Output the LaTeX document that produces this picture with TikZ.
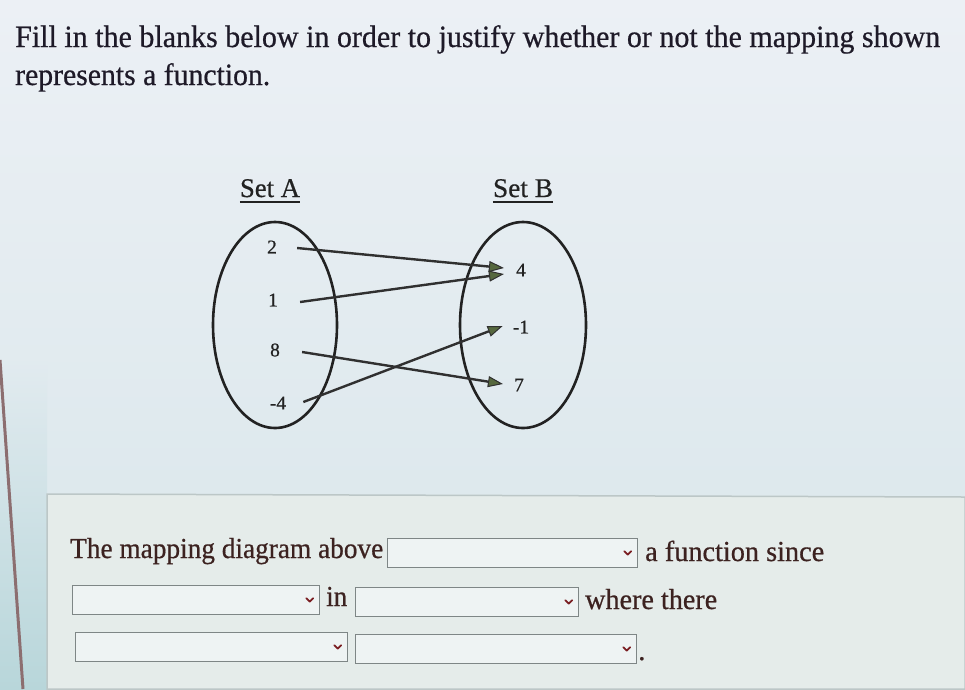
\documentclass[tikz,border=0pt]{standalone}
\usepackage{fontspec}
\setmainfont{Liberation Serif}
\newfontfamily\heavyserif{Liberation Serif}[FakeBold=0.6]
\usetikzlibrary{arrows.meta,shapes.geometric}
\newcommand\fitw[2]{\resizebox{#1}{\height}{#2}}
\definecolor{ttlc}{HTML}{1E1A28}
\definecolor{btxc}{HTML}{3C2220}
\definecolor{ellc}{HTML}{222222}
\definecolor{arrc}{HTML}{303030}
\definecolor{headc}{HTML}{56683E}
\definecolor{boxc}{HTML}{7E8686}
\definecolor{boxfill}{HTML}{EEF3F3}
\definecolor{chevc}{HTML}{7A1E22}
\definecolor{panelc}{HTML}{E5ECEA}
\definecolor{paneld}{HTML}{BCC7C7}
\definecolor{bgtop}{HTML}{ECF0F5}
\definecolor{bgbot}{HTML}{D8E6EA}
\definecolor{tealc}{HTML}{B8D6DA}
\definecolor{bezelc}{HTML}{8C6E70}
\colorlet{bgmid}{bgbot!52!bgtop}
\begin{document}
\begin{tikzpicture}[x=1pt,y=-1pt,
  txt/.style={inner sep=0pt, anchor=base west},
  ttl/.style={txt, text=ttlc, font=\heavyserif\fontsize{31}{31}\selectfont},
  btx/.style={txt, text=btxc, font=\heavyserif\fontsize{29}{29}\selectfont},
  setlbl/.style={inner sep=0pt, anchor=base, text=ellc, font=\heavyserif\fontsize{27}{27}\selectfont},
  dig/.style={inner sep=0pt, text=ellc, font=\heavyserif\fontsize{19.5}{19.5}\selectfont},
  setell/.style={draw=ellc, line width=2.6pt, ellipse, inner sep=0pt},
  maparrow/.style={line width=2.4pt, draw=arrc, -{Triangle[length=15pt,width=11pt,fill=headc,line width=1pt]}},
  dropbox/.style={draw=boxc, line width=1.3pt, fill=boxfill, inner sep=0pt, anchor=north west},
  chev/.style={draw=chevc, line width=1.8pt, line cap=round, line join=round}
]
\path[use as bounding box] (0,0) rectangle (965,689);
% background
\shade[top color=bgtop, bottom color=bgbot] (0,0) rectangle (965,689);
\shade[top color=bgmid, bottom color=tealc] (0,360) rectangle (47,689);
\draw[bezelc, line width=3pt] (0,360) -- (23,689);
% panel
\filldraw[fill=panelc, draw=paneld, line width=1.5pt] (47,689) -- (47,494) -- (965,497) -- (965,689) -- cycle;

% title
\node[ttl] (t1) at (15,47) {\fitw{925pt}{Fill in the blanks below in order to justify whether or not the mapping shown}};
\node[ttl] (t2) at (15,85) {\fitw{255pt}{represents a function.}};

% set labels
\node[setlbl] (setA) at (270,197) {\fitw{60pt}{Set A}};
\node[setlbl] (setB) at (523,197) {\fitw{60pt}{Set B}};
\draw[ellc, line width=1.8pt] ([yshift=-5pt]setA.base west) -- ([yshift=-5pt]setA.base east);
\draw[ellc, line width=1.8pt] ([yshift=-5pt]setB.base west) -- ([yshift=-5pt]setB.base east);

% ellipses
\node[setell, minimum width=124pt, minimum height=206pt] (ellA) at (275,325) {};
\node[setell, minimum width=126pt, minimum height=206pt] (ellB) at (523,325) {};

% elements
\node[dig] (a2) at (272,247) {2};
\node[dig] (a1) at (273,300) {1};
\node[dig] (a8) at (275,350) {8};
\node[dig] (am4) at (278,403) {-4};
\node[dig] (b4) at (521,270) {4};
\node[dig] (bm1) at (521,327) {-1};
\node[dig] (b7) at (519,385) {7};

% mapping arrows
\draw[maparrow] ([xshift=20pt,yshift=-1pt]a2.east) -- ([xshift=-12pt,yshift=2pt]b4.west);
\draw[maparrow] ([xshift=22pt,yshift=-2pt]a1.east) -- ([xshift=-12pt,yshift=-4pt]b4.west);
\draw[maparrow] ([xshift=22pt,yshift=-2pt]a8.east) -- ([xshift=-11pt,yshift=1pt]b7.west);
\draw[maparrow] ([xshift=17pt,yshift=1pt]am4.east) -- ([xshift=-10pt,yshift=1pt]bm1.west);

% row 1
\node[btx] (r1a) at (70,558) {\fitw{313pt}{The mapping diagram above}};
\node[dropbox, minimum width=250pt, minimum height=29pt] (bx1) at (387,538) {};
\node[btx] (r1b) at (645,561) {\fitw{179pt}{a function since}};
% row 2
\node[dropbox, minimum width=247pt, minimum height=29pt] (bx2) at (72,585) {};
\node[btx] (r2a) at (326,606) {\fitw{21pt}{in}};
\node[dropbox, minimum width=223pt, minimum height=29pt] (bx3) at (355,587) {};
\node[btx] (r2b) at (585,609) {\fitw{132pt}{where there}};
% row 3
\node[dropbox, minimum width=272pt, minimum height=29pt] (bx4) at (75,632) {};
\node[dropbox, minimum width=281pt, minimum height=29pt] (bx5) at (355,634) {};
\node[btx] (r3a) at (638,660) {.};

% chevrons
\foreach \b in {bx1,bx2,bx3,bx4,bx5}{
  \draw[chev] ([xshift=-14pt,yshift=2pt]\b.east) -- ++(3.5,3.5) -- ++(3.5,-3.5);
}
\end{tikzpicture}
\end{document}
